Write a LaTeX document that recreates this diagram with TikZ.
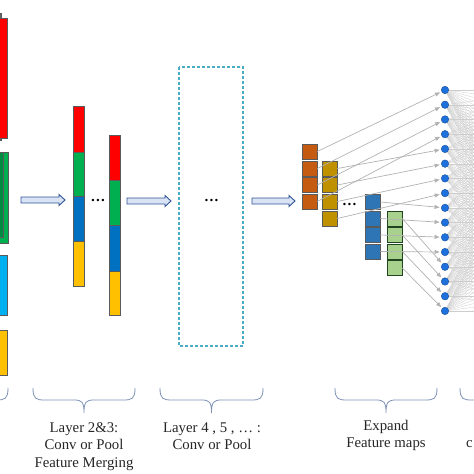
\documentclass[tikz,border=0pt]{standalone}
\usepackage{fontspec}
\setmainfont{Liberation Serif}
\usetikzlibrary{arrows.meta}
\pgfdeclarelayer{background}
\pgfsetlayers{background,main}
\definecolor{cred}{RGB}{255,0,0}
\definecolor{cgreen}{RGB}{0,176,80}
\definecolor{cdkgreen}{RGB}{0,140,64}
\definecolor{cblue}{RGB}{0,112,192}
\definecolor{cyel}{RGB}{255,192,0}
\definecolor{ccyan}{RGB}{0,176,240}
\definecolor{corange}{RGB}{197,90,17}
\definecolor{colive}{RGB}{191,144,0}
\definecolor{cfblue}{RGB}{46,117,182}
\definecolor{clgreen}{RGB}{169,209,142}
\definecolor{carrowfill}{RGB}{218,227,243}
\definecolor{carrowline}{RGB}{47,85,151}
\definecolor{cdash}{RGB}{75,172,198}
\definecolor{cbrace}{RGB}{125,145,180}
\definecolor{cnode}{RGB}{30,112,220}
\definecolor{cedge}{RGB}{178,178,178}
\definecolor{cfc}{RGB}{205,205,205}
\definecolor{coutline}{RGB}{90,90,90}
\newcommand{\blockarr}[3]{%
  \draw[blockarrow] ({#1},{#3-3}) -- ({#2-6},{#3-3}) -- ({#2-6},{#3-5.5}) -- ({#2},{#3})
    -- ({#2-6},{#3+5.5}) -- ({#2-6},{#3+3}) -- ({#1},{#3+3}) -- cycle;}
\newcommand{\bracedraw}[2]{%
  \pgfmathsetmacro\bc{(#1+#2)/2}%
  \draw[bracestyle] ({#1},388) .. controls ({#1},399) and ({#1+3},400) .. ({#1+12},400)
    -- ({\bc-10},400) .. controls ({\bc-2},400) and ({\bc},402) .. ({\bc},413)
    .. controls ({\bc},402) and ({\bc+2},400) .. ({\bc+10},400)
    -- ({#2-12},400) .. controls ({#2-3},400) and ({#2},399) .. ({#2},388);}
\begin{document}
\begin{tikzpicture}[x=1pt,y=-1pt,
  seg/.style={draw=coutline,line width=0.6pt},
  fmap/.style={draw=coutline,line width=0.6pt,minimum width=15pt,minimum height=15pt,inner sep=0pt},
  neuron/.style={circle,fill=cnode,draw=cnode!70!black,line width=0.4pt,minimum size=7.5pt,inner sep=0pt},
  edge/.style={draw=cedge,line width=0.7pt,-{Triangle[length=5pt,width=4pt]},shorten >=1.5pt},
  fc/.style={draw=cfc,line width=0.3pt},
  bracestyle/.style={draw=cbrace,line width=0.8pt},
  lbl/.style={font=\fontsize{14.8}{17.5}\selectfont,inner sep=0pt,anchor=base,text=black!85},
  dots/.style={font=\fontsize{14.8}{17.5}\selectfont\bfseries,inner sep=0pt,anchor=base},
  blockarrow/.style={fill=carrowfill,draw=carrowline,line width=0.9pt,line join=miter}
]
\useasboundingbox (0,0) rectangle (474,474);
\clip (0,0) rectangle (474,474);
% left (cut) input bars
\draw[seg,fill=black!60] (-10,13) rectangle (1.5,140);
\draw[seg,fill=cred] (-10,18) rectangle (7.3,138);
\draw[seg,fill=cgreen] (-10,152) rectangle (8.3,243);
\draw[seg,fill=cdkgreen] (-10,152) rectangle (3,237);
\draw[seg,fill=ccyan] (-10,255) rectangle (7,315);
\draw[seg,fill=cyel] (-10,330) rectangle (7,375);
% block arrows
\blockarr{21}{65}{200}
\blockarr{127}{171}{201}
\blockarr{252}{295}{201}
% layer 2&3 bars
\draw[seg,fill=cred] (73,106) rectangle (84,152);
\draw[seg,fill=cgreen] (73,152) rectangle (84,196);
\draw[seg,fill=cblue] (73,196) rectangle (84,241);
\draw[seg,fill=cyel] (73,241) rectangle (84,286);
\draw[seg,fill=cred] (109,135) rectangle (120,180);
\draw[seg,fill=cgreen] (109,180) rectangle (120,225);
\draw[seg,fill=cblue] (109,225) rectangle (120,271);
\draw[seg,fill=cyel] (109,271) rectangle (120,315);
\node[dots] (d1) at (98,201) {…};
% dashed box
\draw[draw=cdash,line width=1.2pt,dash pattern=on 3pt off 2pt] (179,67) rectangle (243,346);
\node[dots] (d2) at (211.5,201) {…};
% feature maps
\foreach \i/\y in {1/151.5,2/168.5,3/185,4/201.5}
  \node[fmap,fill=corange] (o\i) at (309.5,\y) {};
\foreach \i/\y in {1/168.5,2/185,3/201.5,4/218.5}
  \node[fmap,fill=colive] (g\i) at (329.5,\y) {};
\foreach \i/\y in {1/202,2/218.5,3/235,4/251.5}
  \node[fmap,fill=cfblue] (b\i) at (372.5,\y) {};
\foreach \i/\y in {1/218.5,2/235,3/251.5,4/268}
  \node[fmap,fill=clgreen,draw=coutline!70!green!50!black] (l\i) at (394.5,\y) {};
\node[dots] (d3) at (349.5,205) {…};
% neurons
\foreach \i in {1,...,16}
  \node[neuron] (n\i) at (445,{90+(\i-1)*14.73}) {};
\foreach \j in {1,...,16}
  \coordinate (h\j) at (560,{90+(\j-1)*14.73});
\begin{pgfonlayer}{background}
\foreach \i in {1,...,16}
  \foreach \j in {1,...,16}
    \draw[fc] (n\i) -- (h\j);
\end{pgfonlayer}
% expand edges
\foreach \i in {1,...,4} {
  \pgfmathtruncatemacro\ja{\i+4}
  \pgfmathtruncatemacro\jb{\i+8}
  \pgfmathtruncatemacro\jc{\i+12}
  \draw[edge] (o\i.east) -- (n\i);
  \draw[edge] (g\i.east) -- (n\ja);
  \draw[edge] (b\i.east) -- (n\jb);
  \draw[edge] (l\i.east) -- (n\jc);
}
% braces
\bracedraw{-95}{8}
\bracedraw{33}{135}
\bracedraw{160}{263}
\bracedraw{335}{437}
\bracedraw{460}{563}
% labels
\node[lbl] (l2a) at (84,432) {Layer 2\&3:};
\node[lbl] (l2b) at (84,449.5) {Conv or Pool};
\node[lbl] (l2c) at (84,467) {Feature Merging};
\node[lbl] (l4a) at (212,432) {Layer 4 , 5 , … :};
\node[lbl] (l4b) at (212,449.5) {Conv or Pool};
\node[lbl] (exa) at (386,430) {Expand};
\node[lbl] (exb) at (386,447.5) {Feature maps};
\node[lbl,anchor=base west] (cc) at (466,447.5) {c};
\end{tikzpicture}
\end{document}
